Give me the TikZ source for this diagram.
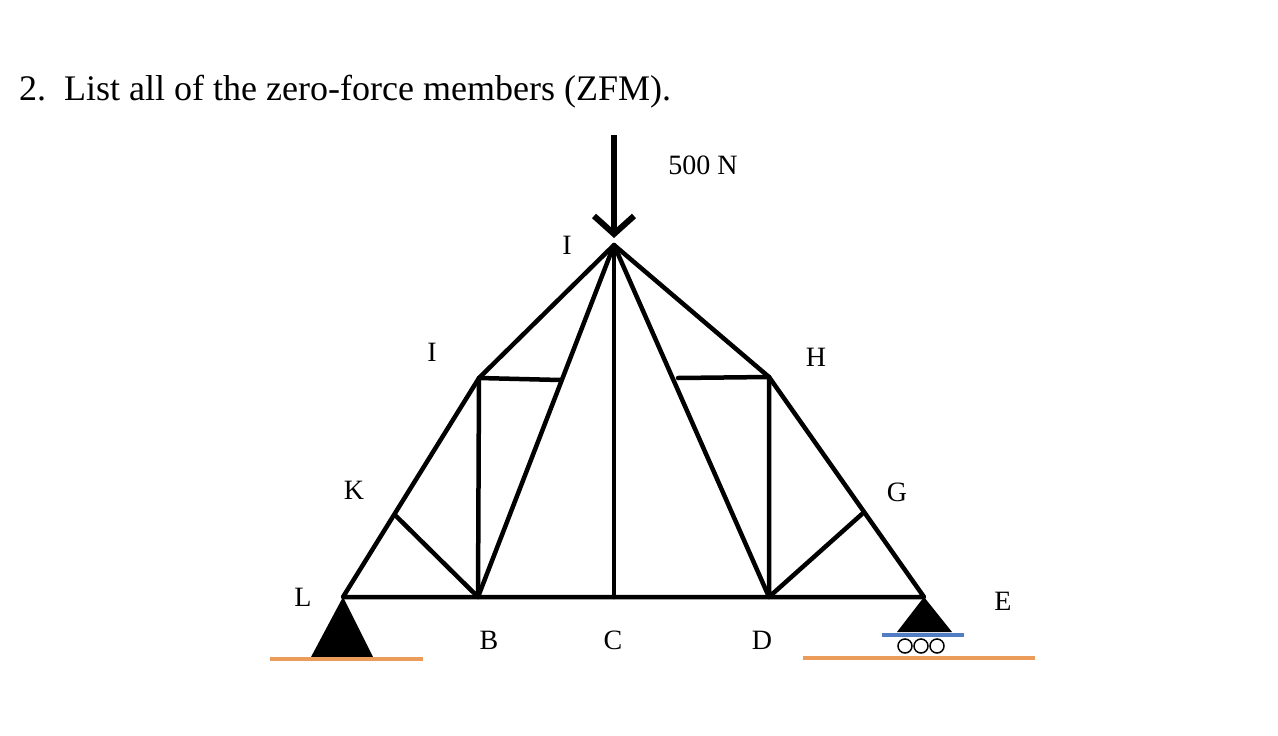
\documentclass[tikz,border=0pt]{standalone}
\usetikzlibrary{arrows.meta}
\usepackage{fontspec}
\setmainfont{Liberation Serif}
\begin{document}
\begin{tikzpicture}[x=1pt,y=-1pt,
  mem/.style={line width=4.5pt,line cap=round,line join=round},
  lab/.style={font=\fontsize{28}{28}\selectfont},
  gnd/.style={line width=4.5pt,color={rgb,255:red,235;green,155;blue,90}}]
\useasboundingbox (0,0) rectangle (1278,736);
\node[anchor=west,inner sep=0pt,font=\fontsize{36}{36}\selectfont] (title) at (19,92) {2.\ \ List all of the zero-force members (ZFM).};
\coordinate (L) at (343,597);
\coordinate (B) at (478,597);
\coordinate (C) at (614,597);
\coordinate (D) at (769,597);
\coordinate (E) at (924,597);
\coordinate (A) at (614,245);
\coordinate (P) at (479,378);
\coordinate (Q) at (769,377);
\coordinate (K1) at (396,516);
\coordinate (G1) at (862,514);
\coordinate (P2) at (560,380);
\coordinate (Q2) at (678,378);
\draw[mem] (L) -- (E) -- (Q) -- (A) -- (P) -- cycle;
\draw[mem] (B) -- (A) -- (D);
\draw[mem] (A) -- (C);
\draw[mem] (P) -- (B) -- (K1);
\draw[mem] (Q) -- (D) -- (G1);
\draw[mem] (P) -- (P2);
\draw[mem] (Q) -- (Q2);
% load
\coordinate (F0) at (614,135);
\coordinate (F1) at (614,238);
\draw[line width=6pt,-{Straight Barb[length=18pt,width=40pt,line width=6pt]}] (F0) -- (F1);
\node[lab] (f) at (703,165) {500 N};
% labels
\node[lab] at (567,245) {I};
\node[lab] at (432,352) {I};
\node[lab] at (816,357) {H};
\node[lab] at (354,490) {K};
\node[lab] at (897,492) {G};
\node[lab] at (303,597) {L};
\node[lab] at (1003,601) {E};
\node[lab] at (489,640) {B};
\node[lab] at (613,640) {C};
\node[lab] at (762,640) {D};
% supports
\fill (L) -- (373,657) -- (311,657) -- cycle;
\draw[gnd] (270,659) -- (423,659);
\fill (E) -- (952,632) -- (897,632) -- cycle;
\draw[line width=4pt,color={rgb,255:red,80;green,125;blue,195}] (882,635) -- (964,635);
\foreach \x in {905,921,937} \draw[line width=1.5pt] (\x,646) circle (7);
\draw[gnd] (803,658) -- (1035,658);
\end{tikzpicture}
\end{document}
